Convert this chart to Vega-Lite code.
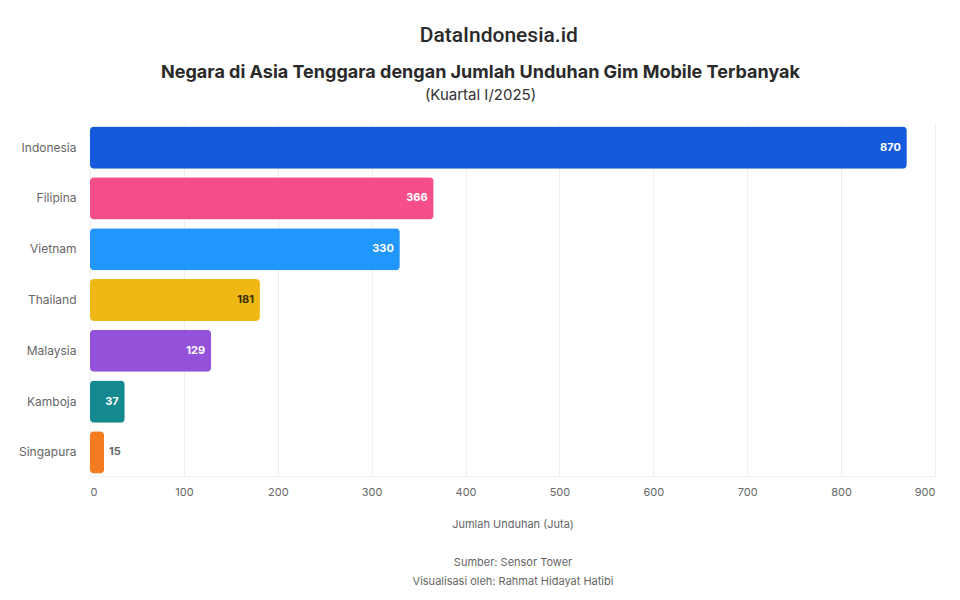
{
  "$schema": "https://vega.github.io/schema/vega-lite/v6.json",
  "background": "white",
  "padding": {"left": 18, "right": 20, "top": 25, "bottom": 5},
  "title": {
    "text": "DataIndonesia.id",
    "font": "Roboto",
    "fontSize": 21,
    "fontWeight": 500,
    "color": "#2a2a2a",
    "anchor": "middle",
    "dx": 22,
    "offset": 18
  },
  "data": {
    "values": [
      {"country": "Indonesia", "value": 870},
      {"country": "Filipina", "value": 366},
      {"country": "Vietnam", "value": 330},
      {"country": "Thailand", "value": 181},
      {"country": "Malaysia", "value": 129},
      {"country": "Kamboja", "value": 37},
      {"country": "Singapura", "value": 15}
    ]
  },
  "vconcat": [
    {
      "width": 845,
      "height": 352,
      "title": {
        "text": "Negara di Asia Tenggara dengan Jumlah Unduhan Gim Mobile Terbanyak",
        "subtitle": "(Kuartal I/2025)",
        "font": "Inter",
        "fontSize": 18,
        "fontWeight": "bold",
        "color": "#2a2a2a",
        "subtitleFont": "Inter",
        "subtitleFontSize": 15,
        "subtitleColor": "#333",
        "subtitlePadding": 6,
        "anchor": "middle",
        "dx": -32,
        "offset": 21
      },
      "encoding": {
        "y": {
          "field": "country",
          "type": "nominal",
          "sort": null,
          "scale": {"paddingInner": 0.17, "paddingOuter": 0.05},
          "axis": {
            "title": null,
            "domain": false,
            "ticks": false,
            "labelFont": "Inter",
            "labelFontSize": 12,
            "labelColor": "#666",
            "labelPadding": 14
          }
        },
        "x": {
          "field": "value",
          "type": "quantitative",
          "scale": {"domain": [0, 900], "nice": false},
          "axis": {
            "values": [0, 100, 200, 300, 400, 500, 600, 700, 800, 900],
            "title": ["Jumlah Unduhan (Juta)", "\u2800", "Sumber: Sensor Tower", "Visualisasi oleh: Rahmat Hidayat Hatibi"],
            "titleFont": "Inter",
            "titleFontSize": 11,
            "titleFontWeight": "normal",
            "titleColor": "#666",
            "titleLineHeight": 19,
            "titlePadding": 21,
            "domain": true,
            "domainColor": "#eeeeee",
            "grid": true,
            "gridColor": "#eeeeee",
            "ticks": false,
            "labelFont": "Inter",
            "labelFontSize": 11,
            "labelColor": "#666",
            "labelPadding": 10
          }
        }
      },
      "layer": [
        {
          "mark": {"type": "bar", "cornerRadius": 4},
          "encoding": {
            "color": {
              "field": "country",
              "type": "nominal",
              "legend": null,
              "scale": {
                "domain": ["Indonesia", "Filipina", "Vietnam", "Thailand", "Malaysia", "Kamboja", "Singapura"],
                "range": ["#1559dd", "#f54e8a", "#2196fc", "#efb814", "#9452da", "#13888e", "#f47b20"]
              }
            }
          }
        },
        {
          "transform": [{"filter": "datum.value >= 30"}],
          "mark": {"type": "text", "align": "right", "dx": -6, "font": "Inter", "fontSize": 11, "fontWeight": "bold"},
          "encoding": {
            "text": {"field": "value", "type": "quantitative"},
            "color": {"condition": {"test": "datum.country === 'Thailand'", "value": "#3a3000"}, "value": "white"}
          }
        },
        {
          "transform": [{"filter": "datum.value < 30"}],
          "mark": {"type": "text", "align": "left", "dx": 5, "font": "Inter", "fontSize": 11, "fontWeight": "bold", "color": "#666"},
          "encoding": {
            "text": {"field": "value", "type": "quantitative"}
          }
        }
      ]
    }
  ],
  "config": {"view": {"stroke": null}}
}
